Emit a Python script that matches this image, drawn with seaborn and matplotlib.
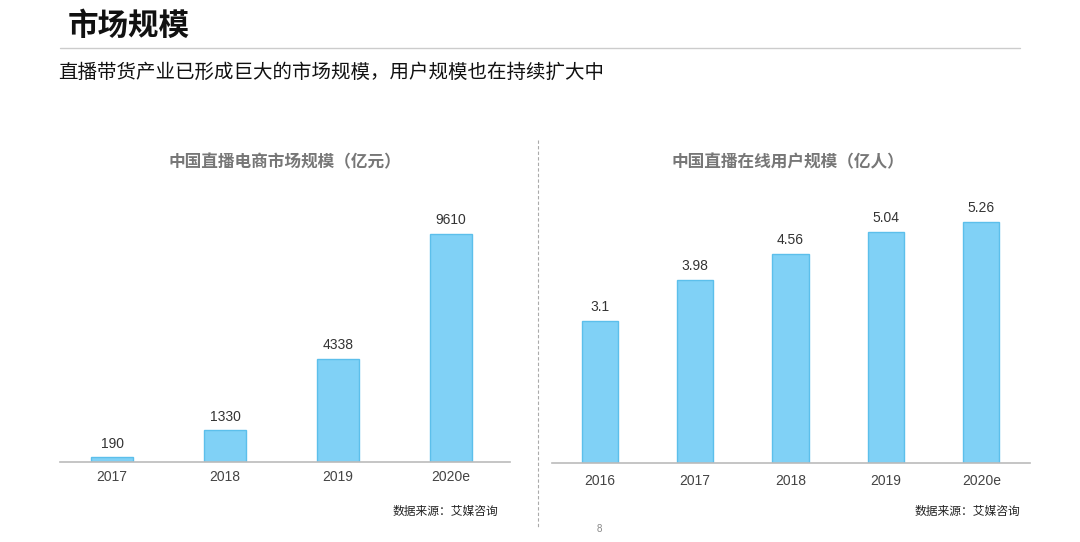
import matplotlib
matplotlib.use('Agg')
import matplotlib.pyplot as plt
import seaborn as sns
import pandas as pd

##################################################################
# data
gmv_years = ['2017', '2018', '2019', '2020e']
gmv_values = [190, 1330, 4338, 9610]

user_years = ['2016', '2017', '2018', '2019', '2020e']
user_values = [3.1, 3.98, 4.56, 5.04, 5.26]

title = '市场规模'
subtitle = '直播带货产业已形成巨大的市场规模，用户规模也在持续扩大中'
left_title = '中国直播电商市场规模（亿元）'
right_title = '中国直播在线用户规模（亿人）'
source = '数据来源：艾媒咨询'
##################################################################
sns.set_style('white')
plt.rcParams['font.family'] = ['Noto Sans CJK SC', 'DejaVu Sans']

bar_fc = '#80D1F6'
bar_ec = '#5CBFEB'
num_font = ['Liberation Sans', 'DejaVu Sans']

fig = plt.figure(figsize=(10.8, 5.42), dpi=100)

ax1 = fig.add_axes([60/1080, 1-462/542, 450/1080, 262/542])
ax2 = fig.add_axes([552/1080, 1-463/542, 478/1080, 263/542])

df1 = pd.DataFrame({'year': gmv_years, 'value': gmv_values})
df2 = pd.DataFrame({'year': user_years, 'value': user_values})

sns.barplot(data=df1, x='year', y='value', ax=ax1, color=bar_fc, width=0.37,
            edgecolor=bar_ec, linewidth=1, saturation=1)
sns.barplot(data=df2, x='year', y='value', ax=ax2, color=bar_fc, width=0.38,
            edgecolor=bar_ec, linewidth=1, saturation=1)

ax1.bar_label(ax1.containers[0], labels=[str(v) for v in gmv_values], padding=5,
              fontsize=10, color='#333333', family=num_font)
ax2.bar_label(ax2.containers[0], labels=[str(v) for v in user_values], padding=5,
              fontsize=10, color='#333333', family=num_font)

ax1.set_xlim(-0.46, 3.52)
ax1.set_ylim(0, 11055)
ax2.set_xlim(-0.50, 4.51)
ax2.set_ylim(0, 5.73)

for ax in [ax1, ax2]:
    ax.set_xlabel('')
    ax.set_ylabel('')
    ax.set_yticks([])
    for s in ['top', 'right', 'left']:
        ax.spines[s].set_visible(False)
    ax.spines['bottom'].set_color('#BBBBBB')
    ax.spines['bottom'].set_linewidth(1.2)
    ax.tick_params(axis='x', length=0, pad=6, labelsize=10, labelcolor='#444444')
    for lab in ax.get_xticklabels():
        lab.set_family(num_font)
    ax.patch.set_alpha(0)
ax2.tick_params(axis='x', pad=8)

# header
fig.text(68/1080, 1-26/542, title, fontsize=22, fontweight='bold', color='#111111',
         ha='left', va='center')
fig.add_artist(plt.Line2D([60/1080, 1020/1080], [1-48/542, 1-48/542],
                          color='#CCCCCC', lw=1))
fig.text(58/1080, 1-72/542, subtitle, fontsize=14, color='#111111', ha='left', va='center')

# chart titles
fig.text(285/1080, 1-162/542, left_title, fontsize=12, fontweight='bold', color='#777777',
         ha='center', va='center')
fig.text(788/1080, 1-162/542, right_title, fontsize=12, fontweight='bold', color='#777777',
         ha='center', va='center')

# divider
fig.add_artist(plt.Line2D([538/1080, 538/1080], [1-140/542, 1-527/542],
                          color='#AAAAAA', lw=0.8, ls=(0, (3, 2))))

# sources and page number
fig.text(498/1080, 1-511/542, source, fontsize=8.5, color='#222222', ha='right', va='center')
fig.text(1020/1080, 1-511/542, source, fontsize=8.5, color='#222222', ha='right', va='center')
fig.text(599/1080, 1-529/542, '8', fontsize=7, color='#888888', ha='center', va='center',
         family=num_font)

plt.savefig('out.png', dpi=100)
